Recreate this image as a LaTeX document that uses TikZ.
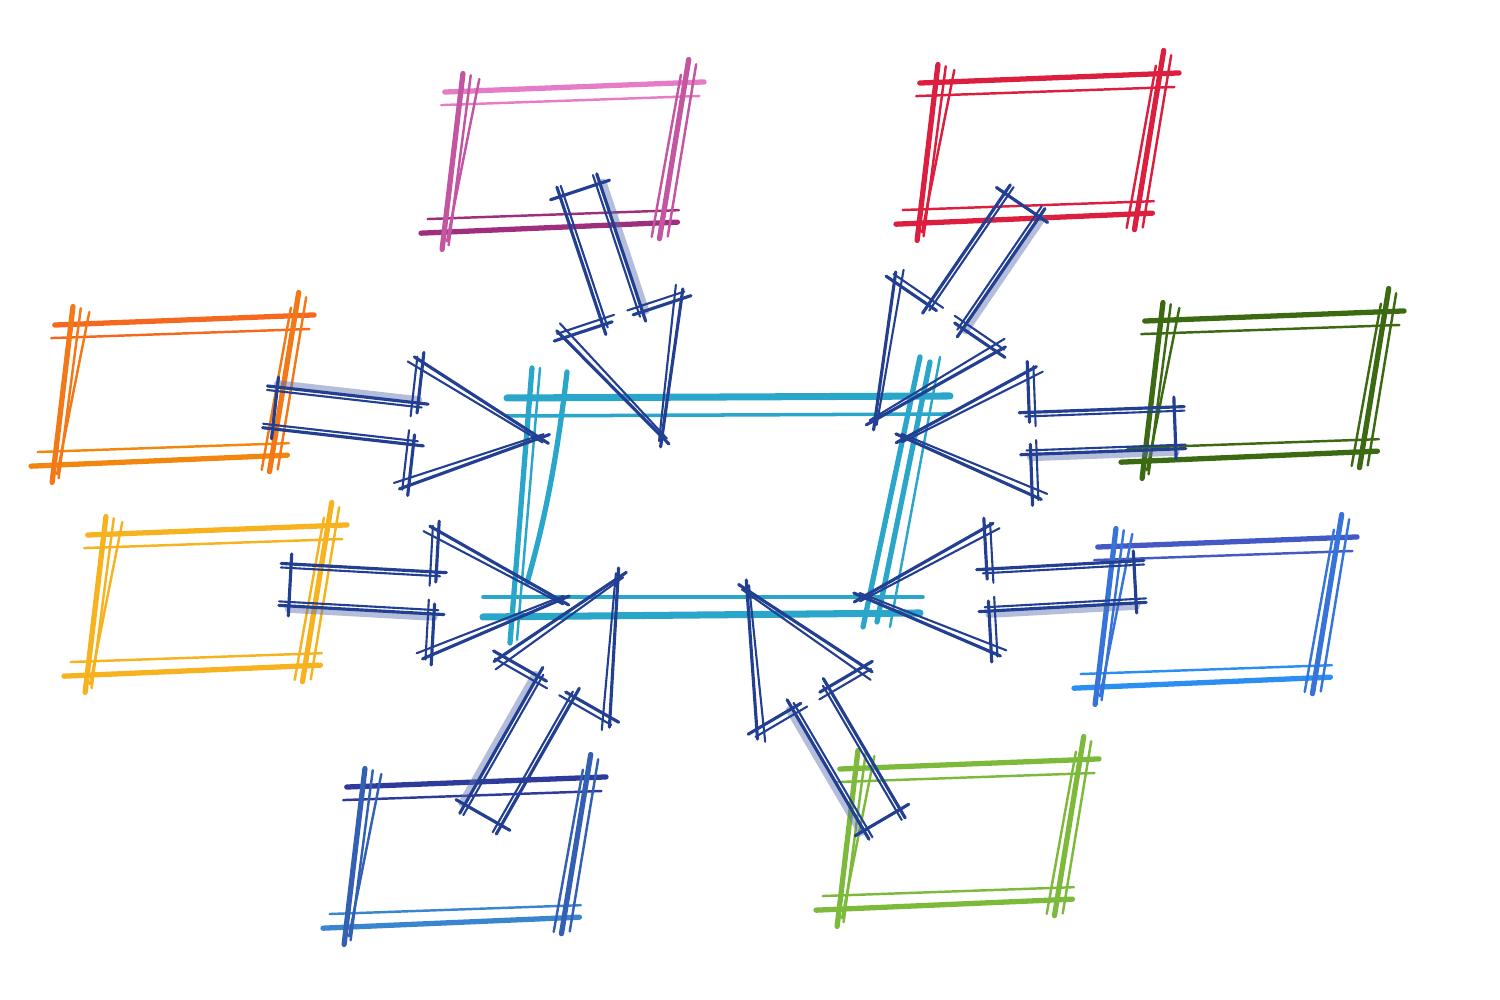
\documentclass[tikz,border=0pt]{standalone}
\usetikzlibrary{calc}
\definecolor{hubcyan}{HTML}{2AA6CA}
\definecolor{arrowblue}{HTML}{223F92}
\definecolor{pinktop}{HTML}{E77CC6}
\definecolor{pinkbot}{HTML}{9E2F7C}
\definecolor{redbox}{HTML}{DC1F3E}
\definecolor{orangetop}{HTML}{F4691F}
\definecolor{orangebot}{HTML}{F2870F}
\definecolor{greendark}{HTML}{3B6A12}
\definecolor{yellowbox}{HTML}{F6B21F}
\definecolor{bluetop}{HTML}{4459C4}
\definecolor{bluebot}{HTML}{2A8FF0}
\definecolor{indigotop}{HTML}{2E3B9A}
\definecolor{indigobot}{HTML}{3A86CE}
\definecolor{greenlight}{HTML}{7DBA3C}

\tikzset{
  crayon/.style={line width=1.5pt, line cap=round},
  pencil/.style={line width=0.7pt, line cap=round},
  arrowline/.style={arrowblue, line cap=round, shorten <=-0.1cm, shorten >=-0.1cm},
  box/.style={shape=rectangle, minimum width=2.25cm, minimum height=1.4cm, inner sep=0pt},
}

% one crayon box round a named node
\newcommand{\sketchbox}[3]{%
  \begin{scope}[shift={(#1.center)}, xslant=0.15, rotate=1.8]
    \draw[crayon, #2] (-1.28,0.70) -- (1.3,0.72);
    \draw[pencil, #2] (-1.3,0.57) -- (1.27,0.58);
    \draw[pencil, #3] (-1.3,-0.57) -- (1.2,-0.56);
    \draw[crayon, #3] (-1.35,-0.71) -- (1.2,-0.68);
    \draw[crayon, #2!50!#3] (-1.12,0.88) -- (-1.12,-0.88);
    \draw[pencil, #2!50!#3] (-1.04,0.86) -- (-1.06,-0.84);
    \draw[pencil, #2!50!#3] (-0.95,0.82) -- (-1.08,-0.8);
    \draw[crayon, #2!50!#3] (1.12,0.95) -- (1.04,-0.84);
    \draw[pencil, #2!50!#3] (1.2,0.9) -- (1.12,-0.82);
    \draw[pencil, #2!50!#3] (1.06,0.8) -- (0.96,-0.82);
  \end{scope}}

% one outline of a block arrow from (s) to (t)
\newcommand{\arrowpass}[4]{%
  \coordinate (tt) at ($(t)!#3!(s)$);
  \coordinate (mm) at ($(tt)!1.25cm!(s)$);
  \coordinate (a1) at ($(s)!#1!90:(t)$);
  \coordinate (a2) at ($(mm)!#1!90:(tt)$);
  \coordinate (a3) at ($(mm)!#2!90:(tt)$);
  \coordinate (a4) at ($(mm)!#2!-90:(tt)$);
  \coordinate (a5) at ($(mm)!#1!-90:(tt)$);
  \coordinate (a6) at ($(s)!#1!-90:(t)$);
  \foreach \p/\q in {a1/a2,a2/a3,a3/tt,tt/a4,a4/a5,a5/a6,a6/a1}
    \draw[arrowline, line width=#4] (\p) -- (\q);}

\newcommand{\bigarrow}[3]{%
  \path #1 coordinate (s) #2 coordinate (t);
  \coordinate (m) at ($(t)!1.25cm!(s)$);
  \draw[arrowblue!75!white, line width=2.2pt, opacity=0.45, line cap=round]
    ($(s)!0.24cm!#3:(t)$) -- ($(m)!0.24cm!#3:(t)$);
  \arrowpass{0.21cm}{0.62cm}{0pt}{0.9pt}
  \arrowpass{0.17cm}{0.57cm}{0.06cm}{0.6pt}}

\begin{document}
\begin{tikzpicture}
\useasboundingbox (0,0) rectangle (15,10);

% outer boxes
\node[box] (b1) at (5.65,8.42) {};
\node[box] (b2) at (10.40,8.51) {};
\node[box] (b3) at (12.65,6.13) {};
\node[box] (b4) at (12.18,3.87) {};
\node[box] (b5) at (9.60,1.65) {};
\node[box] (b6) at (4.67,1.47) {};
\node[box] (b7) at (2.08,3.99) {};
\node[box] (b8) at (1.75,6.09) {};
\node[shape=rectangle, minimum width=4cm, minimum height=2.2cm] (c) at (7.15,4.93) {};

\sketchbox{b1}{pinktop}{pinkbot}
\sketchbox{b2}{redbox}{redbox}
\sketchbox{b3}{greendark}{greendark}
\sketchbox{b4}{bluetop}{bluebot}
\sketchbox{b5}{greenlight}{greenlight}
\sketchbox{b6}{indigotop}{indigobot}
\sketchbox{b7}{yellowbox}{yellowbox}
\sketchbox{b8}{orangetop}{orangebot}

% centre box
\begin{scope}[shift={(c.center)}]
  \draw[hubcyan, line width=2pt, line cap=round] (-2.08,1.09) -- (2.35,1.11);
  \draw[hubcyan, line width=1pt, line cap=round] (-2.08,0.91) -- (2.35,0.93);
  \draw[hubcyan, line width=1pt, line cap=round] (-2.32,-0.90) -- (2.08,-0.90);
  \draw[hubcyan, line width=2pt, line cap=round] (-2.32,-1.10) -- (2.05,-1.06);
  \draw[crayon, hubcyan] (-1.83,1.39) -- (-2.05,-1.36);
  \draw[pencil, hubcyan] (-1.75,1.39) -- (-1.98,-1.33);
  \draw[crayon, hubcyan] (-1.48,1.35) .. controls (-1.6,0.3) and (-1.75,-0.3) .. (-1.88,-0.76);
  \draw[crayon, hubcyan] (2.05,1.50) -- (1.48,-1.20);
  \draw[pencil, hubcyan] (2.25,1.50) -- (1.75,-1.20);
  \draw[crayon, hubcyan] (2.15,1.45) -- (1.62,-1.15);
\end{scope}

% arrows into the centre
\bigarrow{($(b1)+(0.15,-0.32)$)}{($(c)+(-0.53,0.70)$)}{90}
\bigarrow{($(b2)+(-0.18,-0.56)$)}{($(c)+(1.60,0.87)$)}{90}
\bigarrow{($(b3)+(-0.90,-0.41)$)}{($(c)+(1.90,0.69)$)}{90}
\bigarrow{($(b4)+(-0.83,0.31)$)}{($(c)+(1.48,-0.90)$)}{90}
\bigarrow{($(b5)+(-0.78,0.15)$)}{($(c)+(0.32,-0.83)$)}{90}
\bigarrow{($(b6)+(0.16,0.38)$)}{($(c)+(-0.97,-0.71)$)}{90}
\bigarrow{($(b7)+(0.82,0.16)$)}{($(c)+(-1.55,-0.93)$)}{-90}
\bigarrow{($(b8)+(1.00,-0.17)$)}{($(c)+(-1.75,0.69)$)}{90}
\end{tikzpicture}
\end{document}
